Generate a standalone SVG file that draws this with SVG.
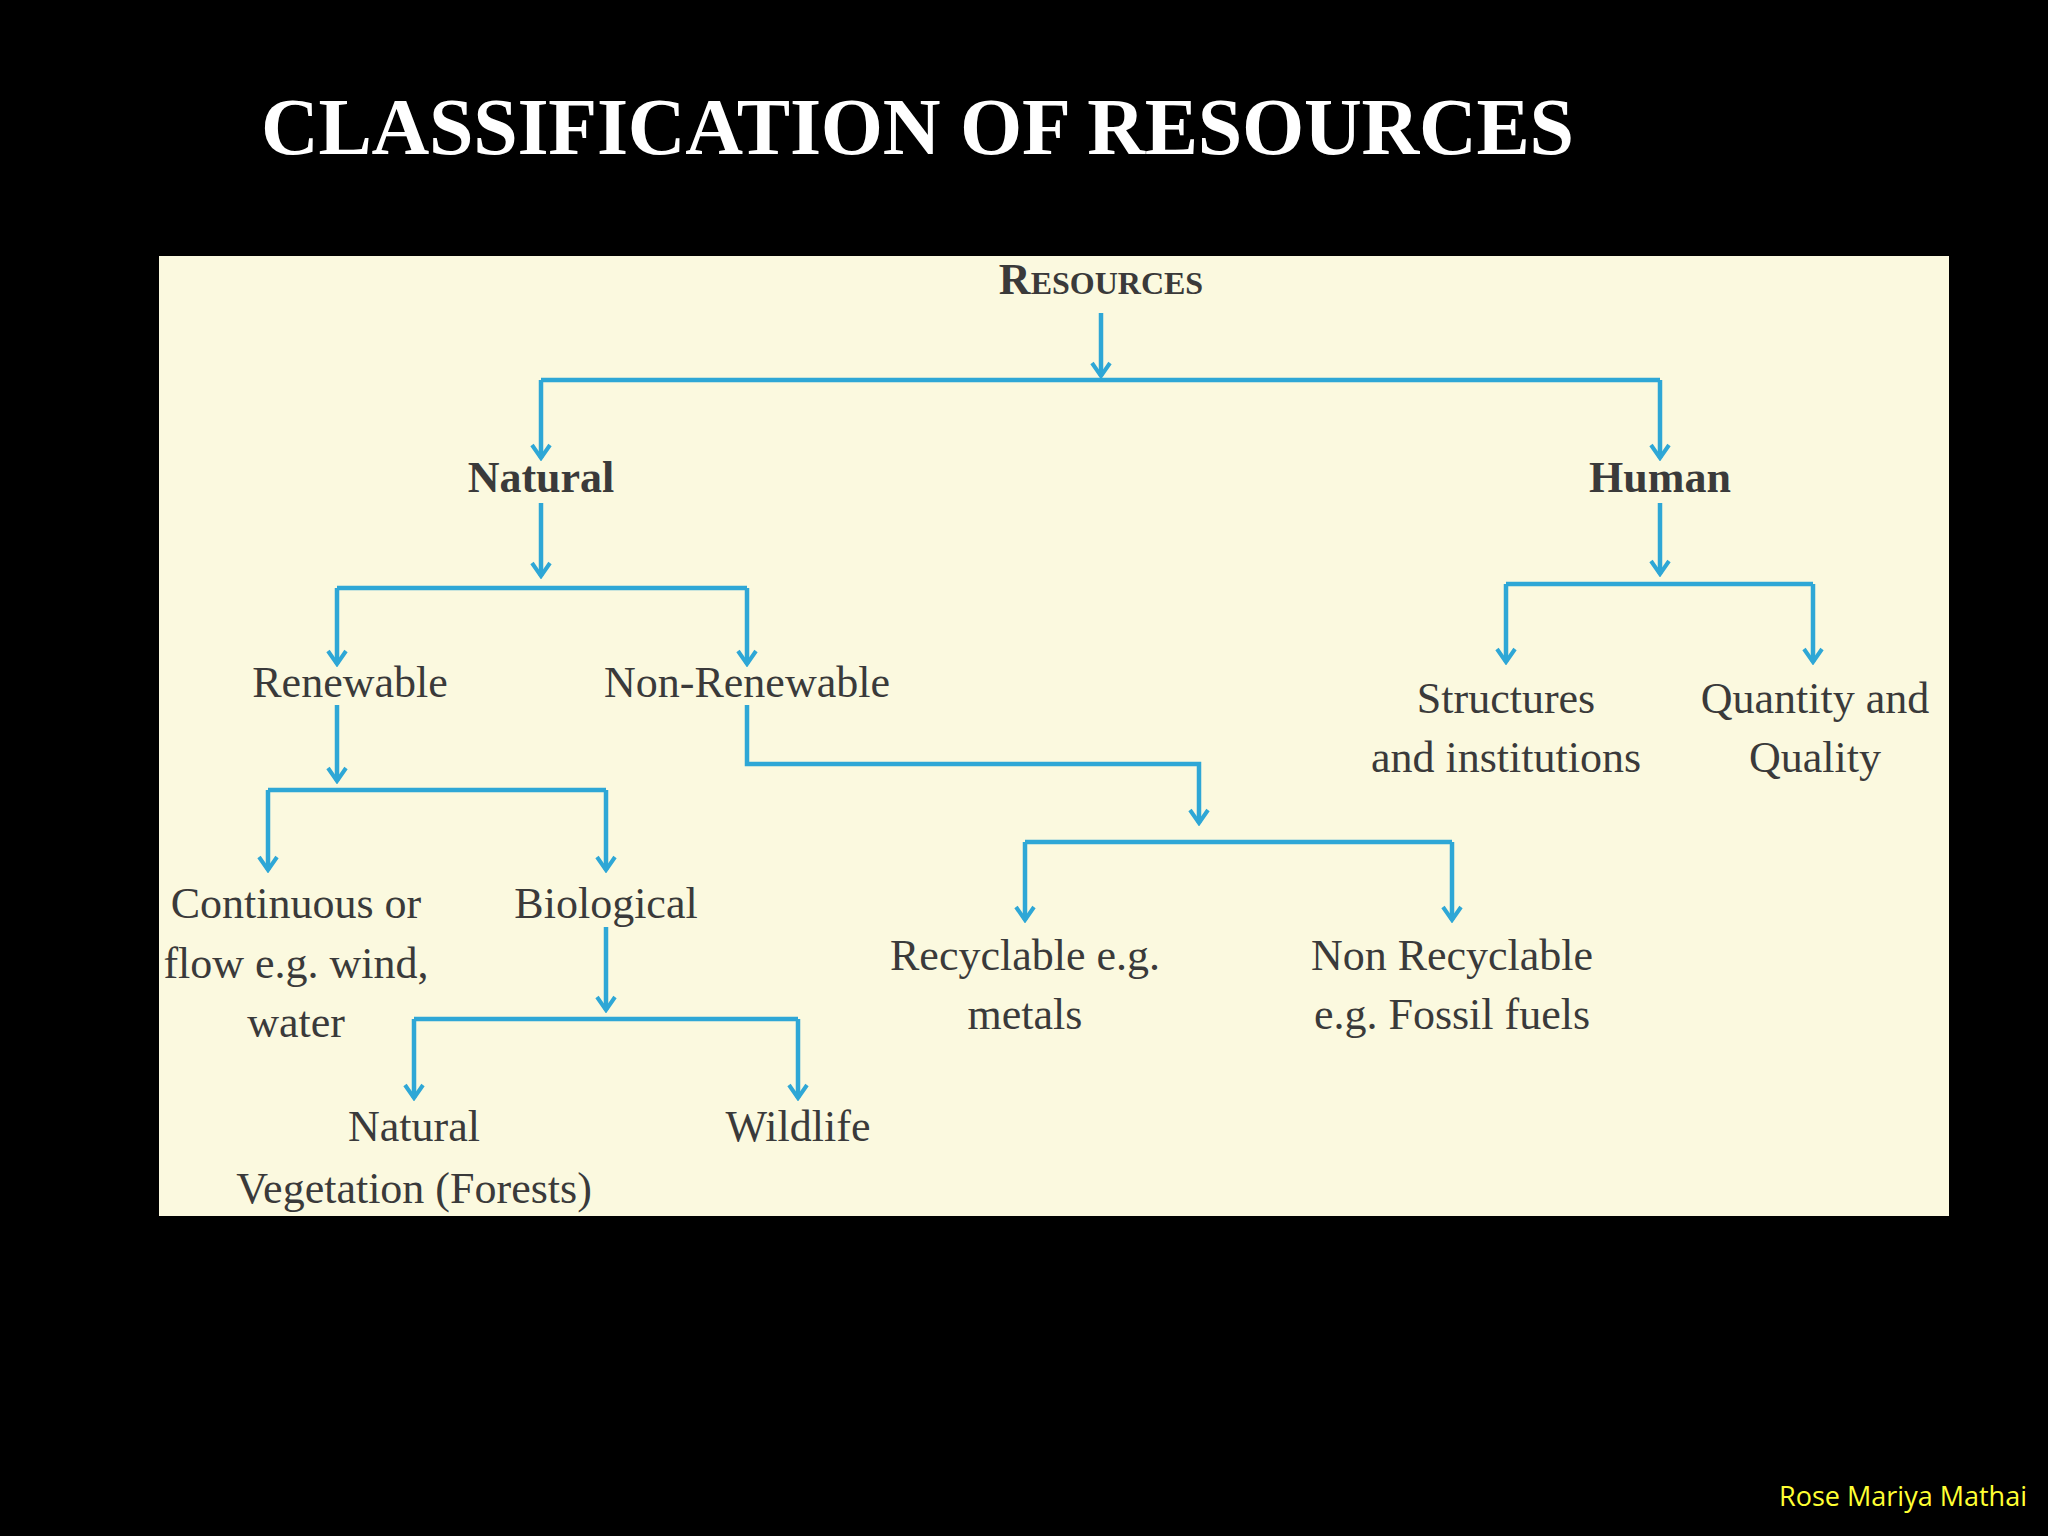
<svg xmlns="http://www.w3.org/2000/svg" width="2048" height="1536" viewBox="0 0 2048 1536">
<defs>
<marker id="ah" viewBox="0 0 24 24" refX="21" refY="12" markerWidth="24" markerHeight="24" markerUnits="userSpaceOnUse" orient="auto">
<polyline points="8,3 21,12 8,21" fill="none" stroke="#2ea7d6" stroke-width="4"/>
</marker>
<style>
.t{font-family:"Liberation Serif",serif;font-size:44px;fill:#3a3a3a;text-anchor:middle}
.b{font-weight:bold}
.c path{fill:none;stroke:#2ea7d6;stroke-width:4.5}
.a{marker-end:url(#ah)}
</style>
</defs>
<rect width="2048" height="1536" fill="#000"/>
<text x="261" y="154" font-family="'Liberation Serif',serif" font-weight="bold" font-size="80" fill="#fff" textLength="1313">CLASSIFICATION OF RESOURCES</text>
<rect x="159" y="256" width="1790" height="960" fill="#fbf9df"/>
<g class="c">
<path class="a" d="M1101,313V376"/>
<path d="M541,380H1660"/>
<path class="a" d="M541,380V458"/>
<path class="a" d="M1660,380V458"/>
<path class="a" d="M541,503V576"/>
<path d="M337,588H747"/>
<path class="a" d="M337,588V664"/>
<path class="a" d="M747,588V664"/>
<path class="a" d="M1660,503V574"/>
<path d="M1506,584H1813"/>
<path class="a" d="M1506,584V662"/>
<path class="a" d="M1813,584V662"/>
<path class="a" d="M337,705V781"/>
<path d="M268,790H606"/>
<path class="a" d="M268,790V870"/>
<path class="a" d="M606,790V870"/>
<path class="a" d="M747,705V764H1199V823"/>
<path d="M1025,842H1452"/>
<path class="a" d="M1025,842V920"/>
<path class="a" d="M1452,842V920"/>
<path class="a" d="M606,927V1010"/>
<path d="M414,1019H798"/>
<path class="a" d="M414,1019V1098"/>
<path class="a" d="M798,1019V1098"/>
</g>
<g id="resources"><text class="t b" x="1101" y="294" font-size="40">R<tspan font-size="32">ESOURCES</tspan></text></g>
<g id="natural"><text class="t b" x="541" y="492">Natural</text></g>
<g id="human"><text class="t b" x="1660" y="492">Human</text></g>
<g id="renewable"><text class="t" x="350" y="697">Renewable</text></g>
<g id="nonrenewable"><text class="t" x="747" y="697">Non-Renewable</text></g>
<g id="structures"><text class="t" x="1506" y="713">Structures</text><text class="t" x="1506" y="772">and institutions</text></g>
<g id="quantity"><text class="t" x="1815" y="713">Quantity and</text><text class="t" x="1815" y="772">Quality</text></g>
<g id="continuous"><text class="t" x="296" y="918">Continuous or</text><text class="t" x="296" y="978">flow e.g. wind,</text><text class="t" x="296" y="1037">water</text></g>
<g id="biological"><text class="t" x="606" y="918">Biological</text></g>
<g id="recyclable"><text class="t" x="1025" y="970">Recyclable e.g.</text><text class="t" x="1025" y="1029">metals</text></g>
<g id="nonrecyclable"><text class="t" x="1452" y="970">Non Recyclable</text><text class="t" x="1452" y="1029">e.g. Fossil fuels</text></g>
<g id="vegetation"><text class="t" x="414" y="1141">Natural</text><text class="t" x="414" y="1203">Vegetation (Forests)</text></g>
<g id="wildlife"><text class="t" x="798" y="1141">Wildlife</text></g>
<text x="2027" y="1506" font-family="'Open Sans',sans-serif" font-size="27" fill="#ffff33" text-anchor="end">Rose Mariya Mathai</text>
</svg>
